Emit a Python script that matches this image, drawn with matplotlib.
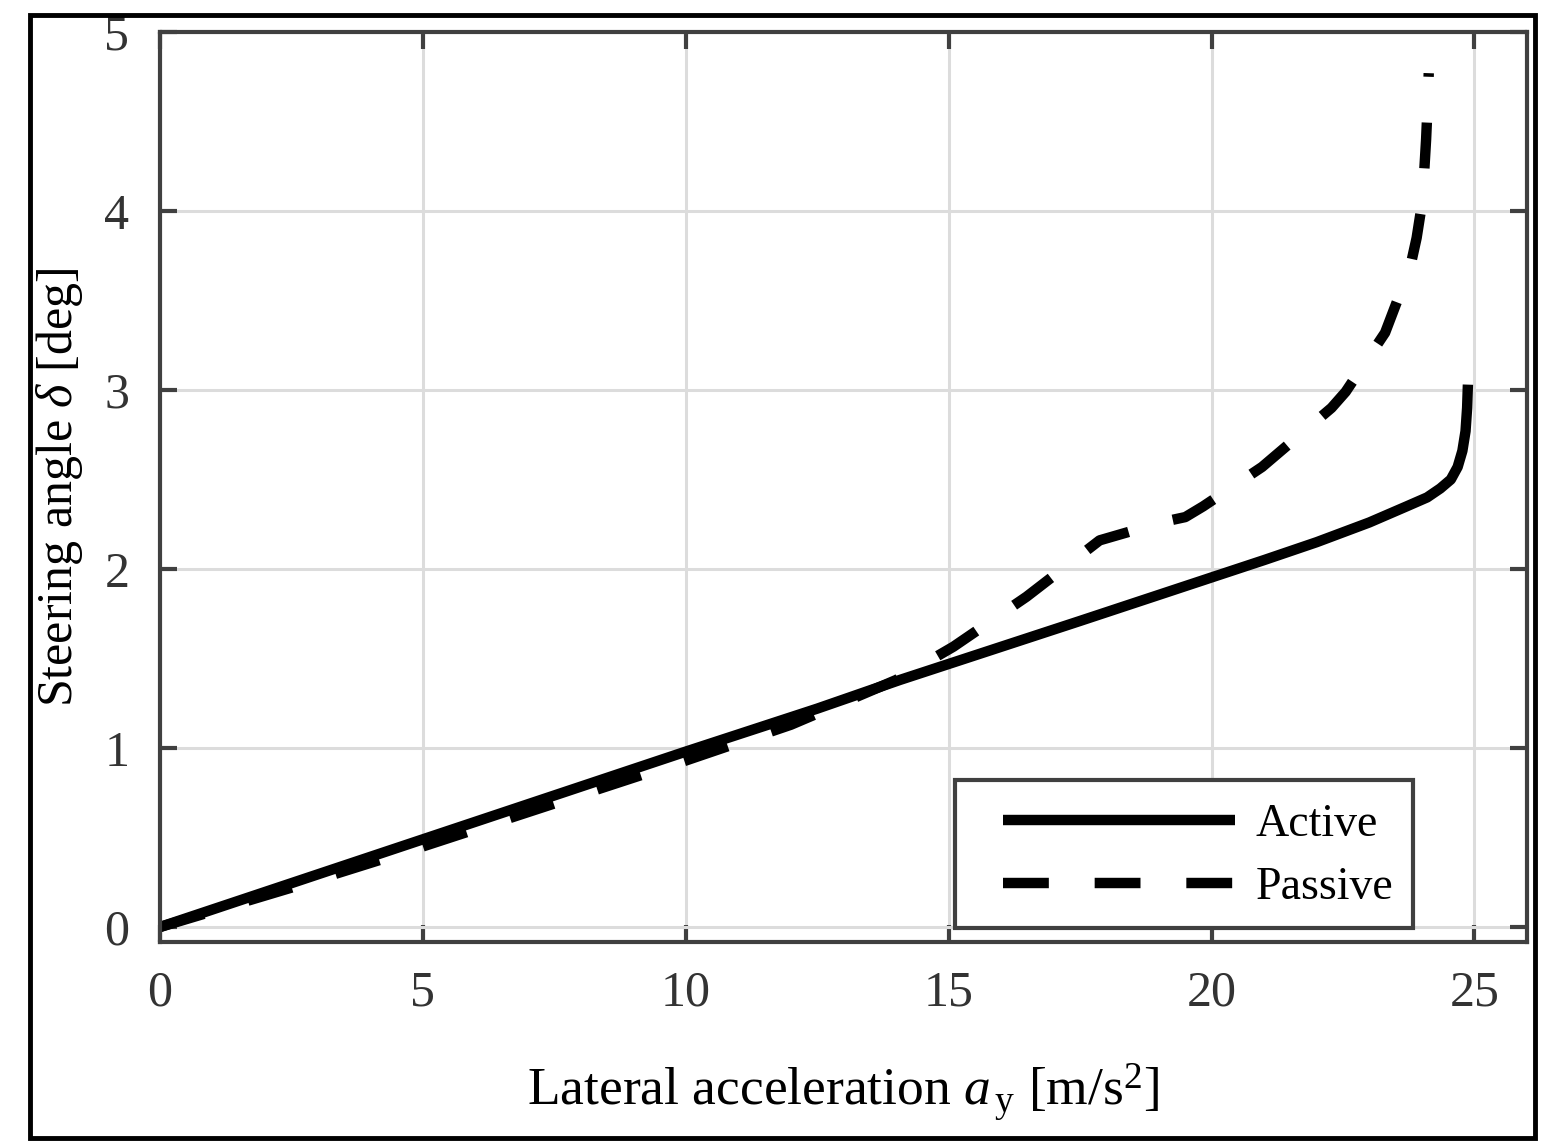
import numpy as np
import matplotlib
matplotlib.use('Agg')
import matplotlib.pyplot as plt
from matplotlib.patches import Rectangle

# =========================
# DATOS
# =========================
ay_active = [0, 2.5, 5, 7.5, 10, 12.5, 14.07, 17.5, 19.97, 21, 22, 23, 23.71, 24.1,
             24.35, 24.55, 24.68, 24.77, 24.83, 24.86, 24.875]
delta_active = [0, 0.245, 0.49, 0.735, 0.98, 1.22, 1.38, 1.71, 1.95, 2.05, 2.15,
                2.26, 2.35, 2.40, 2.45, 2.50, 2.57, 2.66, 2.77, 2.90, 3.03]

ay_passive = [0, 2.5, 5, 7.5, 10, 12, 14, 15.09, 16.48, 17.87, 19.09, 19.5, 19.84,
              20.96, 22.28, 22.55, 23.3, 23.78, 23.9, 23.98, 24.04, 24.08, 24.11,
              24.13]
delta_passive = [0, 0.22, 0.45, 0.69, 0.93, 1.13, 1.38, 1.566, 1.845, 2.16, 2.264,
                 2.29, 2.35, 2.57, 2.90, 2.99, 3.32, 3.69, 3.85, 4.0, 4.2, 4.4, 4.6,
                 4.77]

# =========================
# ESTILO
# =========================
plt.rcParams['font.family'] = ['Liberation Serif', 'DejaVu Serif']
plt.rcParams['mathtext.fontset'] = 'custom'
plt.rcParams['mathtext.rm'] = 'Liberation Serif'
plt.rcParams['mathtext.it'] = 'Liberation Serif:italic'

axis_col = '#404040'

fig = plt.figure(figsize=(15.63, 11.47), dpi=100)
ax = fig.add_axes([0.1024, 0.1787, 0.8746, 0.7934])

ax.plot(ay_active, delta_active, color='black', lw=7.5, solid_capstyle='butt',
        solid_joinstyle='round', label='Active')
ln, = ax.plot(ay_passive, delta_passive, color='black', lw=7.5,
              dash_joinstyle='round', label='Passive')
ln.set_dashes([4.4, 4.4])

ax.set_xlim(0, 26)
ax.set_ylim(-0.084, 5)
ax.set_xticks([0, 5, 10, 15, 20, 25])
ax.set_yticks([0, 1, 2, 3, 4, 5])

ax.grid(True, color='#dcdcdc', lw=2.2)
ax.set_axisbelow(True)

for s in ax.spines.values():
    s.set_color(axis_col)
    s.set_linewidth(3)

ax.tick_params(direction='in', length=12, width=3, color=axis_col,
               top=True, right=True, labelsize=36, labelcolor='#333333')
ax.tick_params(axis='x', pad=20)
ax.tick_params(axis='y', pad=22)

ax.set_xlabel(r'Lateral acceleration $a_{\,\mathrm{y}}$ [m/s$^{2}$]', fontsize=38.5,
              labelpad=32)
ax.set_ylabel(r'Steering angle $\delta$ [deg]', fontsize=36, labelpad=14)

# cuadro de la leyenda
ax.add_patch(Rectangle((0.5816, 0.0154), 0.335, 0.1626, transform=ax.transAxes,
                       facecolor='white', edgecolor=axis_col, lw=3, zorder=4,
                       clip_on=False))

leg = ax.legend(loc='upper left', bbox_to_anchor=(0.6167, 0.152),
                fontsize=33, frameon=False, handlelength=5.07,
                handletextpad=0.44, borderpad=0, borderaxespad=0,
                labelspacing=0.45)
leg.set_zorder(5)

# Marco exterior
fig.patches.append(Rectangle((30 / 1563, 1 - 1138 / 1147), 1505 / 1563, 1123 / 1147,
                             transform=fig.transFigure, fill=False,
                             edgecolor='black', lw=3.5))

fig.savefig('out.png', dpi=100)
